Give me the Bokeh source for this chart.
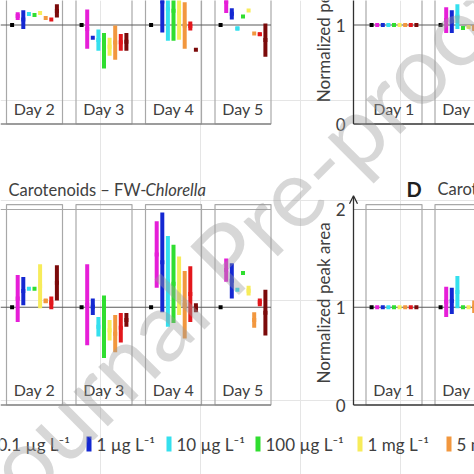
import math
from bokeh.plotting import figure
from bokeh.models import Range1d, ColumnDataSource, Arrow, OpenHead
from bokeh.core.properties import value
from bokeh.embed import file_html
from bokeh.resources import INLINE

# ---- data -----------------------------------------------------------------
SERIES = ["Control", "0.1 µg L⁻¹", "1 µg L⁻¹", "10 µg L⁻¹", "100 µg L⁻¹",
          "1 mg L⁻¹", "5 mg L⁻¹", "10 mg L⁻¹", "50 mg L⁻¹"]
COLORS = ["#000000", "#E61ED8", "#1428D2", "#34E0EE", "#30DE30",
          "#F7EC5A", "#F2973E", "#E3171C", "#7B0A0A"]
DAY_LABELS = ["Day 1", "Day 2", "Day 3", "Day 4", "Day 5"]
NAN = float("nan")

# normalized peak area, range per day (rows) and exposure (columns)
PANEL_A_LOW = [
    [1.0, 1.0, 1.0, 1.0, 1.0, 1.0, 1.0, 1.0, 1.0],
    [1.0, 1.05, 0.96, 1.11, 1.10, 1.12, 1.07, 1.055, 1.075],
    [1.0, 0.76, 0.87, 0.74, 0.56, 0.69, 0.65, 0.74, 0.74],
    [1.0, 1.30, 0.925, 0.84, 0.84, 0.85, 0.76, 0.945, 0.75],
    [1.0, 1.12, 1.055, 0.945, 1.085, 1.146, 0.915, 0.89, 0.68],
]
PANEL_A_HIGH = [
    [1.0, 1.0, 1.0, 1.0, 1.0, 1.0, 1.0, 1.0, 1.0],
    [1.0, 1.13, 1.15, 1.11, 1.10, 1.12, 1.07, 1.055, 1.21],
    [1.0, 1.157, 0.87, 0.955, 0.92, 0.87, 0.995, 0.91, 0.92],
    [1.0, 1.62, 1.55, 1.48, 1.45, 1.40, 1.23, 1.035, 0.75],
    [1.0, 1.35, 1.17, 0.985, 1.085, 1.146, 0.915, 0.925, 1.015],
]

PANEL_B_LOW = [
    [1.0, 1.0, 1.0, 1.0, 1.0, 1.0, 1.0, 1.0, 1.0],
    [1.0, 0.92, 0.92, 0.96, 0.97, 0.98, 0.94, NAN, NAN],
]
PANEL_B_HIGH = [
    [1.0, 1.0, 1.0, 1.0, 1.0, 1.0, 1.0, 1.0, 1.0],
    [1.0, 1.18, 1.15, 1.21, 0.97, 0.98, 1.0, NAN, NAN],
]

PANEL_C_LOW = [
    [1.0, 1.0, 1.0, 1.0, 1.0, 1.0, 1.0, 1.0, 1.0],
    [1.0, 0.85, 1.02, 1.19, 1.19, 0.99, 1.04, 0.98, 1.07],
    [1.0, 0.61, 0.92, 0.70, 0.48, 0.66, 0.54, 0.64, 0.80],
    [1.0, 1.20, 0.95, 0.80, 0.84, 0.92, 0.68, 0.85, 0.95],
    [1.0, 1.26, 1.09, 1.18, 1.35, 1.12, 0.79, 1.01, 0.71],
]
PANEL_C_HIGH = [
    [1.0, 1.0, 1.0, 1.0, 1.0, 1.0, 1.0, 1.0, 1.0],
    [1.0, 1.33, 1.31, 1.19, 1.19, 1.44, 1.09, 1.11, 1.43],
    [1.0, 1.44, 1.09, 0.90, 1.12, 0.87, 0.92, 0.94, 0.94],
    [1.0, 1.88, 1.97, 1.73, 1.64, 1.52, 1.37, 1.42, 1.04],
    [1.0, 1.50, 1.45, 1.18, 1.35, 1.22, 0.95, 1.09, 1.18],
]

PANEL_D_LOW = [
    [1.0, 1.0, 1.0, 1.0, 1.0, 1.0, 1.0, 1.0, 1.0],
    [1.0, 0.90, 0.93, 0.99, 1.0, 1.0, 0.94, NAN, NAN],
]
PANEL_D_HIGH = [
    [1.0, 1.0, 1.0, 1.0, 1.0, 1.0, 1.0, 1.0, 1.0],
    [1.0, 1.21, 1.20, 1.32, 1.0, 1.0, 1.07, NAN, NAN],
]

Y_TICKS = [0, 1, 2]

# ---- layout (page pixels) ---------------------------------------------------
W = H = 474
FONT = value("Lato")
INK = "#404040"
BOX_GREY = "#a8a8a8"

LEFT_DAY0_PX, LEFT_PITCH = -105.0, 69.5      # day centre = DAY0 + PITCH * day
RIGHT_DAY0_PX, RIGHT_PITCH = 324.5, 69.0
RIGHT_AXIS_PX = 353.0
TOP_ZERO_PX, TOP_UNIT = 123.5, 99.0           # value 0 position, px per unit
BOT_ZERO_PX, BOT_UNIT = 404.5, 97.75
PANEL_HALF_PX = 28.0
BAR_STEP_PX = 5.6
BOX_TOP = 2.05
AXIS_TOP = 2.14
DAY_LABEL_Y = 0.16

p = figure(width=W, height=H, x_range=Range1d(0, W), y_range=Range1d(H, 0),
           output_backend="svg", toolbar_location=None,
           x_axis_location=None, y_axis_location=None,
           min_border=0, outline_line_color=None)
p.background_fill_color = "white"
p.border_fill_color = "white"

p.extra_x_ranges = {
    "left": Range1d(-LEFT_DAY0_PX / LEFT_PITCH, (W - LEFT_DAY0_PX) / LEFT_PITCH),
    "right": Range1d(-RIGHT_DAY0_PX / RIGHT_PITCH, (W - RIGHT_DAY0_PX) / RIGHT_PITCH),
}
p.extra_y_ranges = {
    "top": Range1d((TOP_ZERO_PX - H) / TOP_UNIT, TOP_ZERO_PX / TOP_UNIT),
    "bottom": Range1d((BOT_ZERO_PX - H) / BOT_UNIT, BOT_ZERO_PX / BOT_UNIT),
}


def draw_chart(low, high, xname, yname, pitch, with_axis, value2_line):
    xr = p.extra_x_ranges[xname]
    half = PANEL_HALF_PX / pitch
    step = BAR_STEP_PX / pitch
    days = list(range(1, len(low) + 1))
    kw = dict(x_range_name=xname, y_range_name=yname)

    # one framed panel per day
    p.quad(left=[d - half for d in days], right=[d + half for d in days],
           bottom=0, top=BOX_TOP, fill_color=None, line_color=BOX_GREY,
           line_width=1.2, **kw)

    x_start = (RIGHT_AXIS_PX - RIGHT_DAY0_PX) / RIGHT_PITCH if with_axis else xr.start
    x_end = xr.end if with_axis else days[-1] + half
    p.segment(x0=[x_start], y0=[1], x1=[x_end], y1=[1], line_color="#5a5a5a",
              line_width=1.2, **kw)
    p.segment(x0=[x_start], y0=[0], x1=[x_end], y1=[0],
              line_color="#404040" if with_axis else "#8a8a8a", line_width=1.3, **kw)
    if value2_line:
        p.segment(x0=[x_start], y0=[2], x1=[x_end], y1=[2], line_color=BOX_GREY,
                  line_width=1.0, **kw)

    xs, mids, hs, cols = [], [], [], []
    for di, d in enumerate(days):
        for si in range(len(SERIES)):
            lo, hi = low[di][si], high[di][si]
            if math.isnan(lo):
                continue
            xs.append(d + (si - 4) * step)
            mids.append((lo + hi) / 2)
            hs.append(hi - lo)
            cols.append(COLORS[si])
    src = ColumnDataSource(dict(x=xs, y=mids, h=hs, c=cols))
    p.rect(x="x", y="y", width=4, width_units="screen", height="h",
           fill_color="c", line_color=None, source=src, **kw)
    p.rect(x="x", y="y", width=4, height=4, width_units="screen",
           height_units="screen", fill_color="c", line_color=None, source=src, **kw)

    p.text(x=days, y=[DAY_LABEL_Y] * len(days), text=DAY_LABELS[:len(days)],
           text_font=FONT, text_font_size="16px", text_color=INK,
           text_align="center", text_baseline="middle", **kw)

    if with_axis:
        ax = x_start
        p.add_layout(Arrow(end=OpenHead(size=8, line_color="#303030", line_width=1.3),
                           x_start=ax, y_start=0, x_end=ax, y_end=AXIS_TOP,
                           line_color="#303030", line_width=1.3, **kw))
        p.text(x=[ax] * len(Y_TICKS), y=Y_TICKS, text=[str(t) for t in Y_TICKS],
               x_offset=-8, text_font=FONT, text_font_size="17px", text_color=INK,
               text_align="right", text_baseline="middle", **kw)
        p.text(x=[ax], y=[0.22], text=["Normalized peak area"], angle=math.pi / 2,
               x_offset=-30, text_font=FONT, text_font_size="17px", text_color=INK,
               text_align="left", text_baseline="middle", **kw)


draw_chart(PANEL_A_LOW, PANEL_A_HIGH, "left", "top", LEFT_PITCH, False, False)
draw_chart(PANEL_B_LOW, PANEL_B_HIGH, "right", "top", RIGHT_PITCH, True, True)
draw_chart(PANEL_C_LOW, PANEL_C_HIGH, "left", "bottom", LEFT_PITCH, False, True)
draw_chart(PANEL_D_LOW, PANEL_D_HIGH, "right", "bottom", RIGHT_PITCH, True, True)

# chart titles
title_kw = dict(text_font=FONT, text_font_size="16.5px", text_color=INK,
                text_baseline="middle", text_align="left")
p.text(x=[8], y=[189], text=["Carotenoids – FW-"], **title_kw)
p.text(x=[145], y=[189], text=["Chlorella"], text_font_style="italic", **title_kw)
p.text(x=[406], y=[188], text=["D"], text_font_style="bold",
       **dict(title_kw, text_font_size="20px", text_color="#202020"))
p.text(x=[437], y=[188], text=["Carotenoids – SW-"], **title_kw)

# legend strip
LEGEND_PATCH_X = [-100, -13, 86, 166, 255, 357, 446, 540, 630]
p.quad(left=LEGEND_PATCH_X, right=[x + 5 for x in LEGEND_PATCH_X],
       top=436, bottom=451, fill_color=COLORS, line_color=None)
p.text(x=[x + 10 for x in LEGEND_PATCH_X], y=[444] * len(SERIES), text=SERIES,
       text_font=FONT, text_font_size="17px", text_color=INK,
       text_align="left", text_baseline="middle")

# diagonal watermark across the page
p.text(x=[232], y=[248], text=["Journal Pre-proof"], angle=math.pi / 4,
       text_font=FONT, text_font_size="96px", text_color="#9a9a9a", text_alpha=0.4,
       text_align="center", text_baseline="middle")

open("out.html", "w").write(file_html(p, INLINE))
